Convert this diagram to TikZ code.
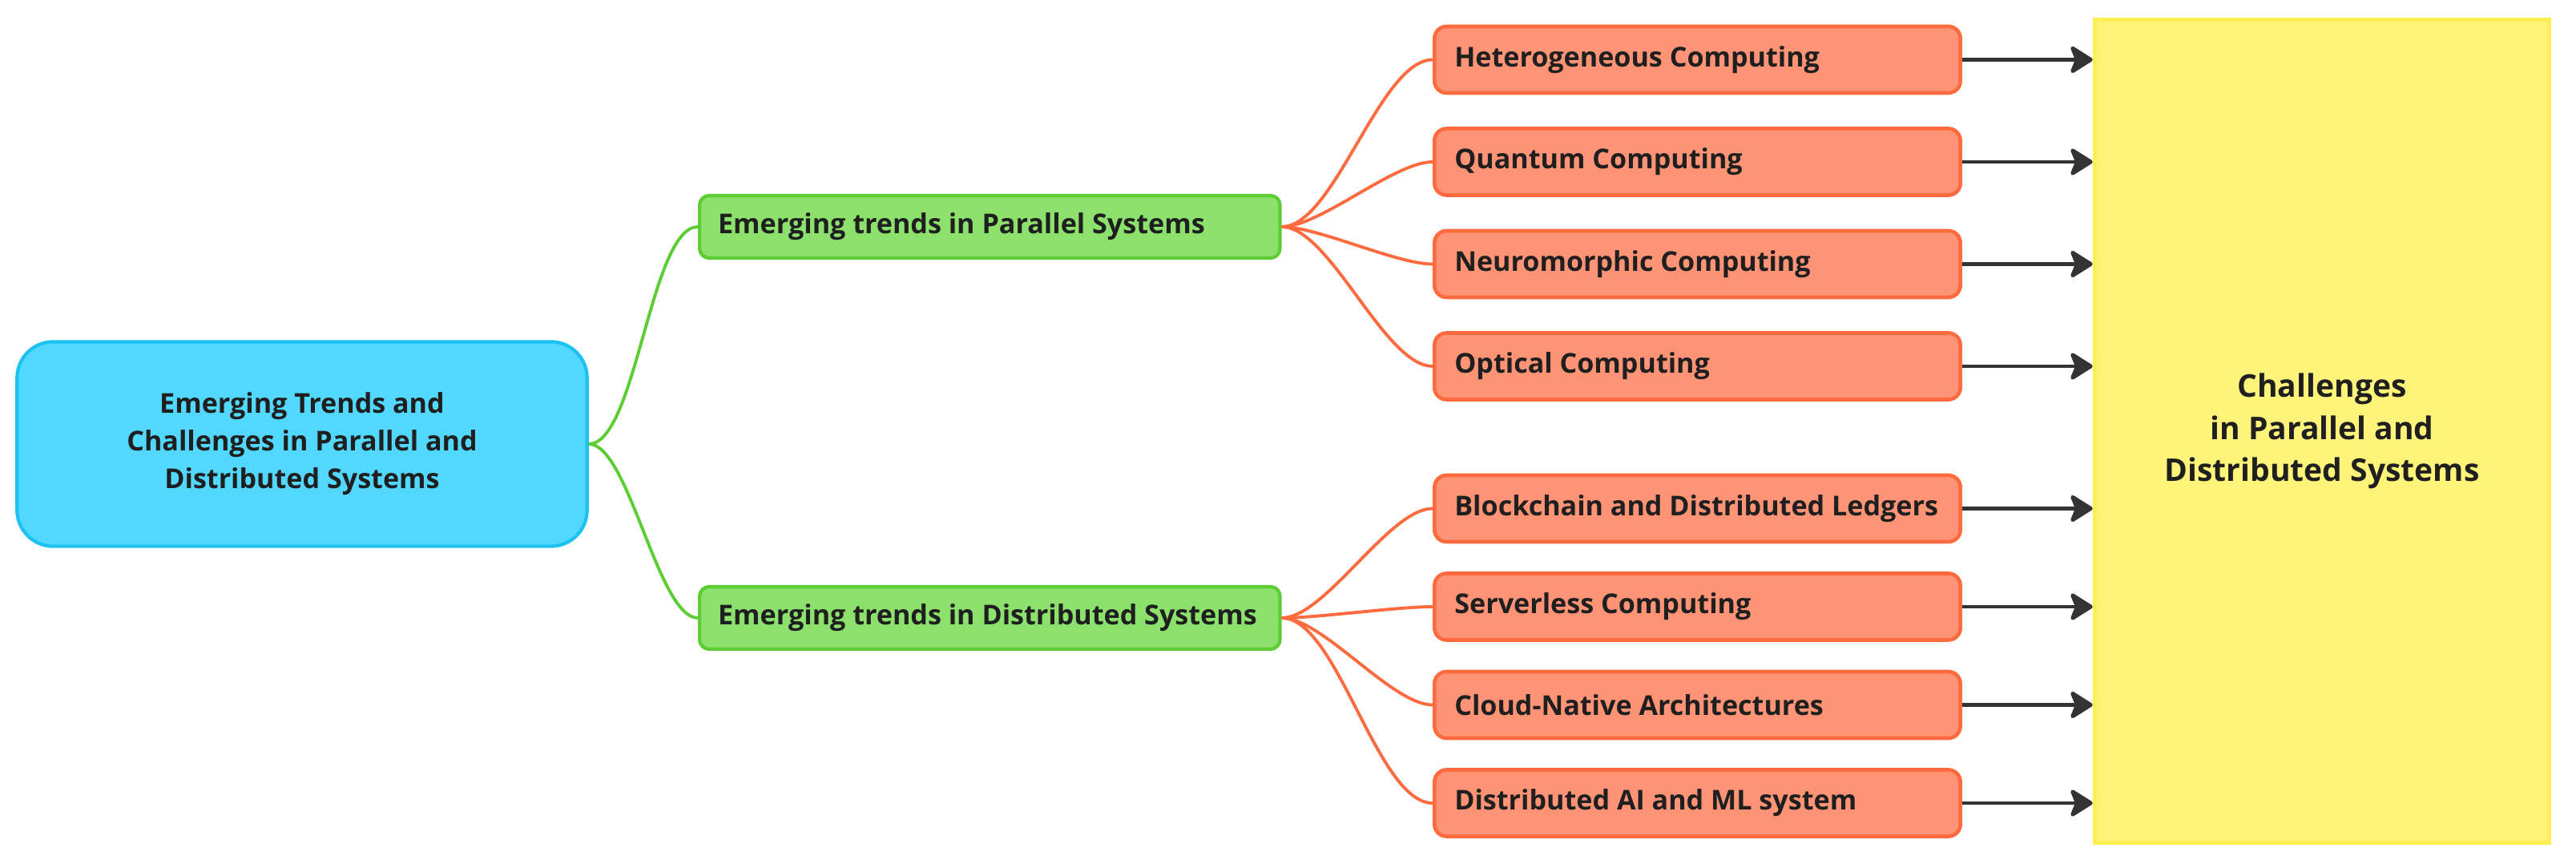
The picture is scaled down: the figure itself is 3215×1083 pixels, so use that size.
\documentclass[tikz,border=0pt]{standalone}
\usepackage{fontspec}
\setmainfont{Open Sans}
\usetikzlibrary{arrows.meta}
\definecolor{rootfill}{HTML}{52D7FE}
\definecolor{rootline}{HTML}{1CC3F2}
\definecolor{trendfill}{HTML}{8BE16B}
\definecolor{trendline}{HTML}{5DCD34}
\definecolor{topicfill}{HTML}{FF9375}
\definecolor{topicline}{HTML}{FF6B3E}
\definecolor{chalfill}{HTML}{FFF47A}
\definecolor{challine}{HTML}{FFEF55}
\definecolor{arrowgray}{HTML}{333333}
\definecolor{textdark}{HTML}{1F1F1F}
\newcommand{\lefttext}[2]{\makebox[#1][l]{#2}}
\begin{document}
\begin{tikzpicture}[x=0.01cm,y=-0.01cm,
	font=\bfseries\fontsize{9.7}{13}\selectfont, text=textdark,
	rootbox/.style={draw=rootline, fill=rootfill, line width=1.2pt, rounded corners=0.45cm,
		minimum width=7.11cm, minimum height=2.55cm, align=center, font=\bfseries\fontsize{9.7}{13.4}\selectfont},
	trendbox/.style={draw=trendline, fill=trendfill, line width=1.2pt, rounded corners=0.12cm,
		anchor=west, inner xsep=0.23cm, minimum width=7.24cm, minimum height=0.78cm},
	topicbox/.style={draw=topicline, fill=topicfill, line width=1.3pt, rounded corners=0.15cm,
		anchor=west, inner xsep=0.25cm, minimum width=6.56cm, minimum height=0.83cm},
	chalbox/.style={draw=challine, fill=chalfill, line width=1.5pt, minimum width=5.67cm,
		minimum height=10.26cm, align=center, font=\bfseries\fontsize{11.1}{15}\selectfont},
	glink/.style={draw=trendline, line width=1.1pt},
	olink/.style={draw=topicline, line width=1.1pt},
	arr/.style={draw=arrowgray, line width=1.4pt, -{Stealth[length=0.32cm, width=0.4cm, inset=0.08cm, round]}}]
	\useasboundingbox (0,0) rectangle (3215,1083);
	% main boxes
	\node[rootbox] (root) at (377,554) {Emerging Trends and\\Challenges in Parallel and\\Distributed Systems};
	\node[chalbox] (chal) at (2898,538) {Challenges\\in Parallel and\\Distributed Systems};
	\node[trendbox] (par) at (871,283) {\lefttext{6.78cm}{Emerging trends in Parallel Systems}};
	\node[trendbox] (dist) at (871,771) {\lefttext{6.78cm}{Emerging trends in Distributed Systems}};
	\draw[glink] (root.east) to[out=0,in=180,looseness=0.5] (par.west);
	\draw[glink] (root.east) to[out=0,in=180,looseness=0.5] (dist.west);
	% parallel topics
	\foreach \n/\y/\t in {het/74.5/Heterogeneous Computing, qua/202/Quantum Computing,
		neu/329.5/Neuromorphic Computing, opt/457/Optical Computing}{
		\node[topicbox] (\n) at (1788,\y) {\lefttext{6.06cm}{\t}};
		\draw[olink] (par.east) to[out=0,in=180,looseness=0.6] (\n.west);
		\draw[arr] (\n.east) -- (\n.east -| chal.west);
	}
	% distributed topics
	\foreach \n/\y/\t in {blo/634.5/Blockchain and Distributed Ledgers, ser/757/Serverless Computing,
		clo/879.5/Cloud-Native Architectures, dai/1002/Distributed AI and ML system}{
		\node[topicbox] (\n) at (1788,\y) {\lefttext{6.06cm}{\t}};
		\draw[olink] (dist.east) to[out=0,in=180,looseness=0.6] (\n.west);
		\draw[arr] (\n.east) -- (\n.east -| chal.west);
	}
\end{tikzpicture}
\end{document}
